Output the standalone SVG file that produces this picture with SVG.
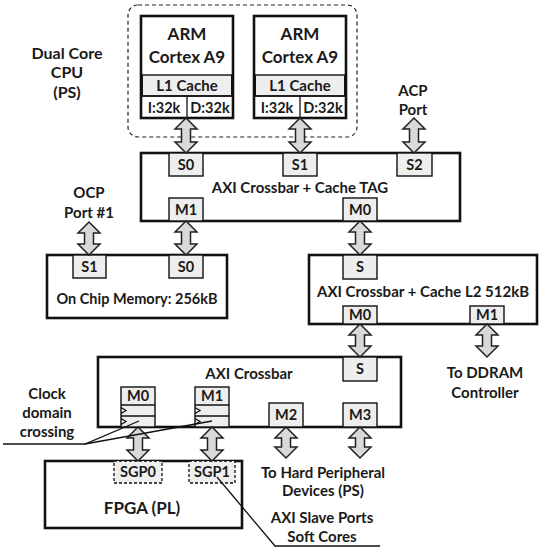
<svg xmlns="http://www.w3.org/2000/svg" width="543" height="550" viewBox="0 0 543 550">
<style>
text{font-family:Lato,"Open Sans","Liberation Sans",sans-serif;font-weight:bold;fill:#1a1a1a;text-anchor:middle}
.big{stroke:#111;stroke-width:2.6;fill:#fff}
.port{stroke:#111;stroke-width:1.4;fill:#eeeeee}
.dport{stroke:#111;stroke-width:1.3;fill:#eeeeee;stroke-dasharray:3,2}
.arr{fill:#d9d9d9;stroke:#222;stroke-width:1.5;stroke-linejoin:miter}
.t17{font-size:17px}
.t15{font-size:15px}
.t16{font-size:16px}
.t14{font-size:14.5px}
.ln{stroke:#111;stroke-width:1.3;fill:none}
</style>
<rect x="128" y="5" width="229" height="132" rx="10" fill="none" stroke="#222" stroke-width="1.2" stroke-dasharray="4,3"/>
<g id="cpu0">
<rect class="big" x="141" y="16" width="92" height="102"/>
<rect class="port" x="142.3" y="75" width="89.4" height="21"/>
<line class="ln" x1="141" y1="96" x2="233" y2="96" stroke-width="2"/>
<line class="ln" x1="187" y1="96" x2="187" y2="118" stroke-width="2"/>
<text class="t17" x="187" y="40">ARM</text>
<text class="t17" x="187" y="63">Cortex A9</text>
<text class="t15" x="187" y="91">L1 Cache</text>
<text class="t14" x="164" y="113">I:32k</text>
<text class="t14" x="210" y="113">D:32k</text>
</g>
<g id="cpu1">
<rect class="big" x="254" y="16" width="92" height="102"/>
<rect class="port" x="255.3" y="75" width="89.4" height="21"/>
<line class="ln" x1="254" y1="96" x2="346" y2="96" stroke-width="2"/>
<line class="ln" x1="300" y1="96" x2="300" y2="118" stroke-width="2"/>
<text class="t17" x="300" y="40">ARM</text>
<text class="t17" x="300" y="63">Cortex A9</text>
<text class="t15" x="300" y="91">L1 Cache</text>
<text class="t14" x="277" y="113">I:32k</text>
<text class="t14" x="323" y="113">D:32k</text>
</g>
<g id="cpu-label">
<text class="t16" x="67" y="59">Dual Core</text>
<text class="t16" x="67" y="78">CPU</text>
<text class="t16" x="67" y="98">(PS)</text>
</g>
<g id="acp-label">
<text class="t15" x="413" y="96">ACP</text>
<text class="t15" x="413" y="115">Port</text>
</g>
<g id="ocp-label">
<text class="t15" x="89" y="198">OCP</text>
<text class="t15" x="89" y="218">Port #1</text>
</g>
<g id="crossbar-tag">
<rect class="big" x="141" y="153" width="319" height="68"/>
<rect class="port" x="169" y="153" width="34" height="23"/>
<rect class="port" x="283" y="153" width="34" height="23"/>
<rect class="port" x="397" y="153" width="35" height="23"/>
<rect class="port" x="169" y="198" width="34" height="23"/>
<rect class="port" x="343" y="198" width="34" height="23"/>
<text class="t14" x="186" y="170">S0</text>
<text class="t14" x="300" y="170">S1</text>
<text class="t14" x="414.5" y="170">S2</text>
<text class="t15" x="300" y="193">AXI Crossbar + Cache TAG</text>
<text class="t14" x="186" y="215">M1</text>
<text class="t14" x="360" y="215">M0</text>
</g>
<g id="ocm">
<rect class="big" x="47" y="255" width="180" height="63"/>
<rect class="port" x="73" y="255" width="33" height="23"/>
<rect class="port" x="169" y="255" width="34" height="23"/>
<text class="t14" x="89.5" y="272">S1</text>
<text class="t14" x="186" y="272">S0</text>
<text class="t14" x="137" y="304">On Chip Memory: 256kB</text>
</g>
<g id="l2">
<rect class="big" x="309" y="255" width="228" height="69"/>
<rect class="port" x="343" y="255" width="34" height="24"/>
<rect class="port" x="470" y="306" width="34" height="18"/>
<rect class="port" x="343" y="306" width="34" height="18"/>
<text class="t14" x="360" y="272">S</text>
<text class="t15" x="423" y="297">AXI Crossbar + Cache L2 512kB</text>
<text class="t14" x="360" y="320">M0</text>
<text class="t14" x="487" y="320">M1</text>
</g>
<g id="ddram-label">
<text class="t15" x="485" y="378">To DDRAM</text>
<text class="t15" x="485" y="398">Controller</text>
</g>
<g id="axi-crossbar">
<rect class="big" x="98" y="357" width="303" height="70"/>
<rect class="port" x="343" y="357" width="34" height="24"/>
<rect class="port" x="121" y="387" width="34" height="40"/>
<rect class="port" x="195" y="387" width="34" height="40"/>
<line class="ln" x1="121" y1="405" x2="155" y2="405"/>
<line class="ln" x1="121" y1="416" x2="155" y2="416"/>
<line class="ln" x1="195" y1="405" x2="229" y2="405"/>
<line class="ln" x1="195" y1="416" x2="229" y2="416"/>
<polyline class="ln" points="121,407.5 126,410.5 121,413.5"/>
<polyline class="ln" points="121,418.5 126,421.5 121,424.5"/>
<polyline class="ln" points="195,407.5 200,410.5 195,413.5"/>
<polyline class="ln" points="195,418.5 200,421.5 195,424.5"/>
<rect class="port" x="269" y="403" width="34" height="24"/>
<rect class="port" x="343" y="403" width="34" height="24"/>
<text class="t15" x="249" y="379">AXI Crossbar</text>
<text class="t14" x="360" y="374">S</text>
<text class="t14" x="138" y="401">M0</text>
<text class="t14" x="212" y="401">M1</text>
<text class="t14" x="286" y="420">M2</text>
<text class="t14" x="360" y="420">M3</text>
</g>
<g id="clock-label">
<text class="t15" x="47" y="399">Clock</text>
<text class="t15" x="47" y="418">domain</text>
<text class="t15" x="47" y="437">crossing</text>
</g>
<g id="fpga">
<rect class="big" x="45" y="461" width="197" height="67"/>
<rect class="dport" x="114" y="461" width="48" height="22"/>
<rect class="dport" x="189" y="461" width="46" height="22"/>
<text class="t14" x="138" y="477">SGP0</text>
<text class="t14" x="212" y="477">SGP1</text>
<text class="t17" x="142" y="514">FPGA (PL)</text>
</g>
<g id="periph-label">
<text class="t15" x="323" y="478">To Hard Peripheral</text>
<text class="t15" x="323" y="496">Devices (PS)</text>
</g>
<g id="slave-label">
<text class="t15" x="322" y="523">AXI Slave Ports</text>
<text class="t15" x="322" y="542">Soft Cores</text>
</g>
<g id="connectors">
<path class="arr" d="M186,118 L197,129 L190.5,129 L190.5,142 L197,142 L186,153 L175,142 L181.5,142 L181.5,129 L175,129 Z"/>
<path class="arr" d="M300,118 L311,129 L304.5,129 L304.5,142 L311,142 L300,153 L289,142 L295.5,142 L295.5,129 L289,129 Z"/>
<path class="arr" d="M414,118 L425,129 L418.5,129 L418.5,142 L425,142 L414,153 L403,142 L409.5,142 L409.5,129 L403,129 Z"/>
<path class="arr" d="M89,222 L100,233 L93.5,233 L93.5,244 L100,244 L89,255 L78,244 L84.5,244 L84.5,233 L78,233 Z"/>
<path class="arr" d="M186,221 L197,232 L190.5,232 L190.5,244 L197,244 L186,255 L175,244 L181.5,244 L181.5,232 L175,232 Z"/>
<path class="arr" d="M360,221 L371,232 L364.5,232 L364.5,244 L371,244 L360,255 L349,244 L355.5,244 L355.5,232 L349,232 Z"/>
<path class="arr" d="M360,324 L371,335 L364.5,335 L364.5,346 L371,346 L360,357 L349,346 L355.5,346 L355.5,335 L349,335 Z"/>
<path class="arr" d="M487,324 L498,335 L491.5,335 L491.5,346 L498,346 L487,357 L476,346 L482.5,346 L482.5,335 L476,335 Z"/>
<path class="arr" d="M138,427 L149,438 L142.5,438 L142.5,450 L149,450 L138,461 L127,450 L133.5,450 L133.5,438 L127,438 Z"/>
<path class="arr" d="M212,427 L223,438 L216.5,438 L216.5,450 L223,450 L212,461 L201,450 L207.5,450 L207.5,438 L201,438 Z"/>
<path class="arr" d="M286,427 L297,438 L290.5,438 L290.5,447 L297,447 L286,458 L275,447 L281.5,447 L281.5,438 L275,438 Z"/>
<path class="arr" d="M360,427 L371,438 L364.5,438 L364.5,447 L371,447 L360,458 L349,447 L355.5,447 L355.5,438 L349,438 Z"/>
<polyline class="ln" points="3,444 85,444 139,421"/>
<line class="ln" x1="85" y1="444" x2="212" y2="421"/>
<polyline class="ln" points="217,477 275,546 380,546"/>
</g>
</svg>
